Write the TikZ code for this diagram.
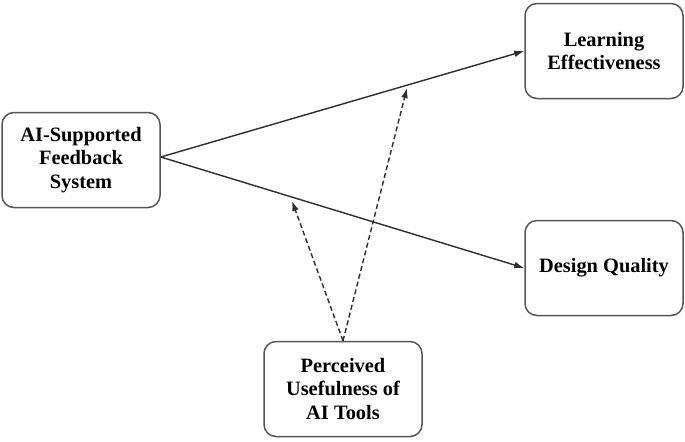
\documentclass[tikz,border=0pt]{standalone}
\usepackage{fontspec}
\setmainfont{Liberation Serif}
\usepackage{tikz}
\usetikzlibrary{arrows.meta, positioning}
\usepackage{xcolor}
\definecolor{BoxGray}{RGB}{85, 85, 85}
\definecolor{LineGray}{RGB}{45, 45, 45}

\tikzset{
    construct/.style={draw=BoxGray, line width=0.75pt, rounded corners=6pt, fill=white,
        minimum width=79pt, minimum height=47.5pt, align=center, inner sep=2pt,
        font=\fontsize{10.2}{11.7}\selectfont\bfseries},
    path/.style={draw=LineGray, line width=0.7pt, -{Latex[length=5pt, width=3.4pt]}},
    moderator/.style={draw=LineGray, line width=0.7pt, dashed, dash pattern=on 2.5pt off 1.5pt,
        -{Latex[length=5pt, width=3.4pt]}}
}

\begin{document}
\begin{tikzpicture}[x=0.5pt, y=-0.5pt]
    \useasboundingbox (0,0) rectangle (685,441);

    \node[construct] (ai) at (81,160) {AI-Supported\\Feedback\\System};
    \node[construct] (le) at (604,51) {Learning\\Effectiveness};
    \node[construct] (dq) at (604,268) {Design Quality};
    \node[construct] (pu) at (343,389) {Perceived\\Usefulness of\\AI Tools};

    % direct effects
    \foreach \target in {le, dq} {
        \draw[path] ([yshift=1.5pt]ai.east) -- (\target.west);
    }

    % moderation
    \coordinate (modup) at (407,88);
    \coordinate (moddown) at (292,201);
    \draw[moderator] (pu.north) -- (modup);
    \draw[moderator] (pu.north) -- (moddown);
\end{tikzpicture}
\end{document}
